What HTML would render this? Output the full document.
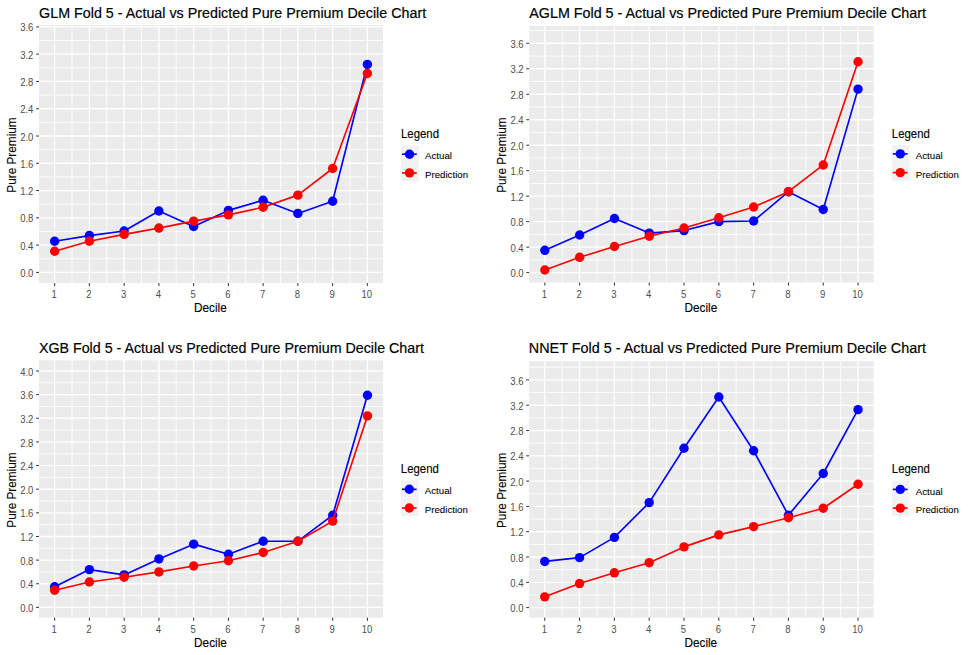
<!DOCTYPE html>
<html><head><meta charset="utf-8"><title>Decile Charts</title>
<style>html,body{margin:0;padding:0;background:#fff;}svg{display:block;}</style></head>
<body><svg width="970" height="655" viewBox="0 0 970 655" font-family='"Liberation Sans", sans-serif'>
<rect width="970" height="655" fill="#FFFFFF"/>
<rect x="39" y="25" width="344" height="258" fill="#EBEBEB"/>
<path d="M39 258.76H383M39 231.48H383M39 204.2H383M39 176.92H383M39 149.64H383M39 122.36H383M39 95.08H383M39 67.8H383M39 40.52H383M72.01 25V283M106.76 25V283M141.51 25V283M176.25 25V283M211 25V283M245.75 25V283M280.49 25V283M315.24 25V283M349.99 25V283" stroke="#FFFFFF" stroke-width="0.85" fill="none"/>
<path d="M39 272.4H383M39 245.12H383M39 217.84H383M39 190.56H383M39 163.28H383M39 136H383M39 108.72H383M39 81.44H383M39 54.16H383M39 26.88H383M54.64 25V283M89.38 25V283M124.13 25V283M158.88 25V283M193.63 25V283M228.37 25V283M263.12 25V283M297.87 25V283M332.62 25V283M367.36 25V283" stroke="#FFFFFF" stroke-width="1.35" fill="none"/>
<polyline points="54.64,241.3 89.38,235.57 124.13,231 158.88,211.02 193.63,226.5 228.37,210.41 263.12,200.31 297.87,213.41 332.62,201.2 367.36,64.39" stroke="#0000FF" stroke-width="1.65" fill="none" stroke-linejoin="round"/>
<circle cx="54.64" cy="241.3" r="4.7" fill="#0000FF"/><circle cx="89.38" cy="235.57" r="4.7" fill="#0000FF"/><circle cx="124.13" cy="231" r="4.7" fill="#0000FF"/><circle cx="158.88" cy="211.02" r="4.7" fill="#0000FF"/><circle cx="193.63" cy="226.5" r="4.7" fill="#0000FF"/><circle cx="228.37" cy="210.41" r="4.7" fill="#0000FF"/><circle cx="263.12" cy="200.31" r="4.7" fill="#0000FF"/><circle cx="297.87" cy="213.41" r="4.7" fill="#0000FF"/><circle cx="332.62" cy="201.2" r="4.7" fill="#0000FF"/><circle cx="367.36" cy="64.39" r="4.7" fill="#0000FF"/>
<polyline points="54.64,251.26 89.38,241.3 124.13,234.41 158.88,228.07 193.63,221.11 228.37,214.91 263.12,207.27 297.87,195.13 332.62,168.53 367.36,73.53" stroke="#FF0000" stroke-width="1.65" fill="none" stroke-linejoin="round"/>
<circle cx="54.64" cy="251.26" r="4.7" fill="#FF0000"/><circle cx="89.38" cy="241.3" r="4.7" fill="#FF0000"/><circle cx="124.13" cy="234.41" r="4.7" fill="#FF0000"/><circle cx="158.88" cy="228.07" r="4.7" fill="#FF0000"/><circle cx="193.63" cy="221.11" r="4.7" fill="#FF0000"/><circle cx="228.37" cy="214.91" r="4.7" fill="#FF0000"/><circle cx="263.12" cy="207.27" r="4.7" fill="#FF0000"/><circle cx="297.87" cy="195.13" r="4.7" fill="#FF0000"/><circle cx="332.62" cy="168.53" r="4.7" fill="#FF0000"/><circle cx="367.36" cy="73.53" r="4.7" fill="#FF0000"/>
<path d="M36.1 272.4H39M36.1 245.12H39M36.1 217.84H39M36.1 190.56H39M36.1 163.28H39M36.1 136H39M36.1 108.72H39M36.1 81.44H39M36.1 54.16H39M36.1 26.88H39M54.64 283V286.1M89.38 283V286.1M124.13 283V286.1M158.88 283V286.1M193.63 283V286.1M228.37 283V286.1M263.12 283V286.1M297.87 283V286.1M332.62 283V286.1M367.36 283V286.1" stroke="#333333" stroke-width="1" fill="none"/>
<g fill="#4D4D4D" font-size="9.5"><text transform="translate(33.4 277) scale(1 1.12)" text-anchor="end">0.0</text><text transform="translate(33.4 249.72) scale(1 1.12)" text-anchor="end">0.4</text><text transform="translate(33.4 222.44) scale(1 1.12)" text-anchor="end">0.8</text><text transform="translate(33.4 195.16) scale(1 1.12)" text-anchor="end">1.2</text><text transform="translate(33.4 167.88) scale(1 1.12)" text-anchor="end">1.6</text><text transform="translate(33.4 140.6) scale(1 1.12)" text-anchor="end">2.0</text><text transform="translate(33.4 113.32) scale(1 1.12)" text-anchor="end">2.4</text><text transform="translate(33.4 86.04) scale(1 1.12)" text-anchor="end">2.8</text><text transform="translate(33.4 58.76) scale(1 1.12)" text-anchor="end">3.2</text><text transform="translate(33.4 31.48) scale(1 1.12)" text-anchor="end">3.6</text><text transform="translate(54.14 297.7) scale(1 1.12)" text-anchor="middle">1</text><text transform="translate(88.88 297.7) scale(1 1.12)" text-anchor="middle">2</text><text transform="translate(123.63 297.7) scale(1 1.12)" text-anchor="middle">3</text><text transform="translate(158.38 297.7) scale(1 1.12)" text-anchor="middle">4</text><text transform="translate(193.13 297.7) scale(1 1.12)" text-anchor="middle">5</text><text transform="translate(227.87 297.7) scale(1 1.12)" text-anchor="middle">6</text><text transform="translate(262.62 297.7) scale(1 1.12)" text-anchor="middle">7</text><text transform="translate(297.37 297.7) scale(1 1.12)" text-anchor="middle">8</text><text transform="translate(332.12 297.7) scale(1 1.12)" text-anchor="middle">9</text><text transform="translate(366.86 297.7) scale(1 1.12)" text-anchor="middle">10</text></g>
<text transform="translate(39.1 17.6) scale(1 1.03)" font-size="14.31" fill="#000" stroke="#000" stroke-width="0.18">GLM Fold 5 - Actual vs Predicted Pure Premium Decile Chart</text>
<text transform="translate(210.4 311.6) scale(1 1.1)" font-size="11.8" text-anchor="middle" fill="#000" stroke="#000" stroke-width="0.12">Decile</text>
<text transform="translate(15.9 155) rotate(-90) scale(1 1.1)" font-size="11.8" text-anchor="middle" fill="#000" stroke="#000" stroke-width="0.12">Pure Premium</text>
<text transform="translate(401 138.3) scale(1 1.1)" font-size="11.4" fill="#000" stroke="#000" stroke-width="0.12">Legend</text>
<rect x="401" y="145.3" width="17.8" height="35.6" fill="#F2F2F2"/>
<path d="M402 154.2H416.8" stroke="#0000FF" stroke-width="1.65"/>
<circle cx="409.5" cy="154.2" r="4.7" fill="#0000FF"/>
<text transform="translate(425 159.3) scale(1 1.02)" font-size="9.7" fill="#000" stroke="#000" stroke-width="0.08">Actual</text>
<path d="M402 172.9H416.8" stroke="#FF0000" stroke-width="1.65"/>
<circle cx="409.5" cy="172.9" r="4.7" fill="#FF0000"/>
<text transform="translate(425 178) scale(1 1.02)" font-size="9.7" fill="#000" stroke="#000" stroke-width="0.08">Prediction</text>
<rect x="529.2" y="25.8" width="344.5" height="256.7" fill="#EBEBEB"/>
<path d="M529.2 259.86H873.7M529.2 234.38H873.7M529.2 208.9H873.7M529.2 183.42H873.7M529.2 157.94H873.7M529.2 132.46H873.7M529.2 106.98H873.7M529.2 81.5H873.7M529.2 56.02H873.7M529.2 30.54H873.7M562.26 25.8V282.5M597.06 25.8V282.5M631.85 25.8V282.5M666.65 25.8V282.5M701.45 25.8V282.5M736.25 25.8V282.5M771.05 25.8V282.5M805.84 25.8V282.5M840.64 25.8V282.5" stroke="#FFFFFF" stroke-width="0.85" fill="none"/>
<path d="M529.2 272.6H873.7M529.2 247.12H873.7M529.2 221.64H873.7M529.2 196.16H873.7M529.2 170.68H873.7M529.2 145.2H873.7M529.2 119.72H873.7M529.2 94.24H873.7M529.2 68.76H873.7M529.2 43.28H873.7M544.86 25.8V282.5M579.66 25.8V282.5M614.46 25.8V282.5M649.25 25.8V282.5M684.05 25.8V282.5M718.85 25.8V282.5M753.65 25.8V282.5M788.44 25.8V282.5M823.24 25.8V282.5M858.04 25.8V282.5" stroke="#FFFFFF" stroke-width="1.35" fill="none"/>
<polyline points="544.86,250.31 579.66,235.02 614.46,218.46 649.25,233.11 684.05,230.56 718.85,221.64 753.65,221 788.44,191.7 823.24,209.54 858.04,89.14" stroke="#0000FF" stroke-width="1.65" fill="none" stroke-linejoin="round"/>
<circle cx="544.86" cy="250.31" r="4.7" fill="#0000FF"/><circle cx="579.66" cy="235.02" r="4.7" fill="#0000FF"/><circle cx="614.46" cy="218.46" r="4.7" fill="#0000FF"/><circle cx="649.25" cy="233.11" r="4.7" fill="#0000FF"/><circle cx="684.05" cy="230.56" r="4.7" fill="#0000FF"/><circle cx="718.85" cy="221.64" r="4.7" fill="#0000FF"/><circle cx="753.65" cy="221" r="4.7" fill="#0000FF"/><circle cx="788.44" cy="191.7" r="4.7" fill="#0000FF"/><circle cx="823.24" cy="209.54" r="4.7" fill="#0000FF"/><circle cx="858.04" cy="89.14" r="4.7" fill="#0000FF"/>
<polyline points="544.86,270.05 579.66,257.31 614.46,246.48 649.25,236.29 684.05,228.01 718.85,217.82 753.65,206.99 788.44,191.7 823.24,164.95 858.04,61.75" stroke="#FF0000" stroke-width="1.65" fill="none" stroke-linejoin="round"/>
<circle cx="544.86" cy="270.05" r="4.7" fill="#FF0000"/><circle cx="579.66" cy="257.31" r="4.7" fill="#FF0000"/><circle cx="614.46" cy="246.48" r="4.7" fill="#FF0000"/><circle cx="649.25" cy="236.29" r="4.7" fill="#FF0000"/><circle cx="684.05" cy="228.01" r="4.7" fill="#FF0000"/><circle cx="718.85" cy="217.82" r="4.7" fill="#FF0000"/><circle cx="753.65" cy="206.99" r="4.7" fill="#FF0000"/><circle cx="788.44" cy="191.7" r="4.7" fill="#FF0000"/><circle cx="823.24" cy="164.95" r="4.7" fill="#FF0000"/><circle cx="858.04" cy="61.75" r="4.7" fill="#FF0000"/>
<path d="M526.3 272.6H529.2M526.3 247.12H529.2M526.3 221.64H529.2M526.3 196.16H529.2M526.3 170.68H529.2M526.3 145.2H529.2M526.3 119.72H529.2M526.3 94.24H529.2M526.3 68.76H529.2M526.3 43.28H529.2M544.86 282.5V285.6M579.66 282.5V285.6M614.46 282.5V285.6M649.25 282.5V285.6M684.05 282.5V285.6M718.85 282.5V285.6M753.65 282.5V285.6M788.44 282.5V285.6M823.24 282.5V285.6M858.04 282.5V285.6" stroke="#333333" stroke-width="1" fill="none"/>
<g fill="#4D4D4D" font-size="9.5"><text transform="translate(523.6 277.2) scale(1 1.12)" text-anchor="end">0.0</text><text transform="translate(523.6 251.72) scale(1 1.12)" text-anchor="end">0.4</text><text transform="translate(523.6 226.24) scale(1 1.12)" text-anchor="end">0.8</text><text transform="translate(523.6 200.76) scale(1 1.12)" text-anchor="end">1.2</text><text transform="translate(523.6 175.28) scale(1 1.12)" text-anchor="end">1.6</text><text transform="translate(523.6 149.8) scale(1 1.12)" text-anchor="end">2.0</text><text transform="translate(523.6 124.32) scale(1 1.12)" text-anchor="end">2.4</text><text transform="translate(523.6 98.84) scale(1 1.12)" text-anchor="end">2.8</text><text transform="translate(523.6 73.36) scale(1 1.12)" text-anchor="end">3.2</text><text transform="translate(523.6 47.88) scale(1 1.12)" text-anchor="end">3.6</text><text transform="translate(544.36 297.7) scale(1 1.12)" text-anchor="middle">1</text><text transform="translate(579.16 297.7) scale(1 1.12)" text-anchor="middle">2</text><text transform="translate(613.96 297.7) scale(1 1.12)" text-anchor="middle">3</text><text transform="translate(648.75 297.7) scale(1 1.12)" text-anchor="middle">4</text><text transform="translate(683.55 297.7) scale(1 1.12)" text-anchor="middle">5</text><text transform="translate(718.35 297.7) scale(1 1.12)" text-anchor="middle">6</text><text transform="translate(753.15 297.7) scale(1 1.12)" text-anchor="middle">7</text><text transform="translate(787.94 297.7) scale(1 1.12)" text-anchor="middle">8</text><text transform="translate(822.74 297.7) scale(1 1.12)" text-anchor="middle">9</text><text transform="translate(857.54 297.7) scale(1 1.12)" text-anchor="middle">10</text></g>
<text transform="translate(529.3 17.6) scale(1 1.03)" font-size="14.32" fill="#000" stroke="#000" stroke-width="0.18">AGLM Fold 5 - Actual vs Predicted Pure Premium Decile Chart</text>
<text transform="translate(700.85 311.6) scale(1 1.1)" font-size="11.8" text-anchor="middle" fill="#000" stroke="#000" stroke-width="0.12">Decile</text>
<text transform="translate(505.9 155.15) rotate(-90) scale(1 1.1)" font-size="11.8" text-anchor="middle" fill="#000" stroke="#000" stroke-width="0.12">Pure Premium</text>
<text transform="translate(891.8 138.2) scale(1 1.1)" font-size="11.4" fill="#000" stroke="#000" stroke-width="0.12">Legend</text>
<rect x="891.8" y="145" width="17.8" height="35.6" fill="#F2F2F2"/>
<path d="M892.8 153.9H907.6" stroke="#0000FF" stroke-width="1.65"/>
<circle cx="900.3" cy="153.9" r="4.7" fill="#0000FF"/>
<text transform="translate(915.8 159) scale(1 1.02)" font-size="9.7" fill="#000" stroke="#000" stroke-width="0.08">Actual</text>
<path d="M892.8 172.6H907.6" stroke="#FF0000" stroke-width="1.65"/>
<circle cx="900.3" cy="172.6" r="4.7" fill="#FF0000"/>
<text transform="translate(915.8 177.7) scale(1 1.02)" font-size="9.7" fill="#000" stroke="#000" stroke-width="0.08">Prediction</text>
<rect x="39" y="360.4" width="344.1" height="257.3" fill="#EBEBEB"/>
<path d="M39 595.58H383.1M39 571.94H383.1M39 548.3H383.1M39 524.66H383.1M39 501.02H383.1M39 477.38H383.1M39 453.74H383.1M39 430.1H383.1M39 406.46H383.1M39 382.82H383.1M72.02 360.4V617.7M106.78 360.4V617.7M141.53 360.4V617.7M176.29 360.4V617.7M211.05 360.4V617.7M245.81 360.4V617.7M280.57 360.4V617.7M315.32 360.4V617.7M350.08 360.4V617.7" stroke="#FFFFFF" stroke-width="0.85" fill="none"/>
<path d="M39 607.4H383.1M39 583.76H383.1M39 560.12H383.1M39 536.48H383.1M39 512.84H383.1M39 489.2H383.1M39 465.56H383.1M39 441.92H383.1M39 418.28H383.1M39 394.64H383.1M39 371H383.1M54.64 360.4V617.7M89.4 360.4V617.7M124.16 360.4V617.7M158.91 360.4V617.7M193.67 360.4V617.7M228.43 360.4V617.7M263.19 360.4V617.7M297.94 360.4V617.7M332.7 360.4V617.7M367.46 360.4V617.7" stroke="#FFFFFF" stroke-width="1.35" fill="none"/>
<polyline points="54.64,586.72 89.4,569.58 124.16,574.89 158.91,558.94 193.67,544.16 228.43,554.21 263.19,541.21 297.94,541.21 332.7,515.2 367.46,395.23" stroke="#0000FF" stroke-width="1.65" fill="none" stroke-linejoin="round"/>
<circle cx="54.64" cy="586.72" r="4.7" fill="#0000FF"/><circle cx="89.4" cy="569.58" r="4.7" fill="#0000FF"/><circle cx="124.16" cy="574.89" r="4.7" fill="#0000FF"/><circle cx="158.91" cy="558.94" r="4.7" fill="#0000FF"/><circle cx="193.67" cy="544.16" r="4.7" fill="#0000FF"/><circle cx="228.43" cy="554.21" r="4.7" fill="#0000FF"/><circle cx="263.19" cy="541.21" r="4.7" fill="#0000FF"/><circle cx="297.94" cy="541.21" r="4.7" fill="#0000FF"/><circle cx="332.7" cy="515.2" r="4.7" fill="#0000FF"/><circle cx="367.46" cy="395.23" r="4.7" fill="#0000FF"/>
<polyline points="54.64,590.26 89.4,581.99 124.16,577.26 158.91,571.94 193.67,566.03 228.43,560.71 263.19,552.44 297.94,541.21 332.7,521.11 367.46,415.92" stroke="#FF0000" stroke-width="1.65" fill="none" stroke-linejoin="round"/>
<circle cx="54.64" cy="590.26" r="4.7" fill="#FF0000"/><circle cx="89.4" cy="581.99" r="4.7" fill="#FF0000"/><circle cx="124.16" cy="577.26" r="4.7" fill="#FF0000"/><circle cx="158.91" cy="571.94" r="4.7" fill="#FF0000"/><circle cx="193.67" cy="566.03" r="4.7" fill="#FF0000"/><circle cx="228.43" cy="560.71" r="4.7" fill="#FF0000"/><circle cx="263.19" cy="552.44" r="4.7" fill="#FF0000"/><circle cx="297.94" cy="541.21" r="4.7" fill="#FF0000"/><circle cx="332.7" cy="521.11" r="4.7" fill="#FF0000"/><circle cx="367.46" cy="415.92" r="4.7" fill="#FF0000"/>
<path d="M36.1 607.4H39M36.1 583.76H39M36.1 560.12H39M36.1 536.48H39M36.1 512.84H39M36.1 489.2H39M36.1 465.56H39M36.1 441.92H39M36.1 418.28H39M36.1 394.64H39M36.1 371H39M54.64 617.7V620.8M89.4 617.7V620.8M124.16 617.7V620.8M158.91 617.7V620.8M193.67 617.7V620.8M228.43 617.7V620.8M263.19 617.7V620.8M297.94 617.7V620.8M332.7 617.7V620.8M367.46 617.7V620.8" stroke="#333333" stroke-width="1" fill="none"/>
<g fill="#4D4D4D" font-size="9.5"><text transform="translate(33.4 612) scale(1 1.12)" text-anchor="end">0.0</text><text transform="translate(33.4 588.36) scale(1 1.12)" text-anchor="end">0.4</text><text transform="translate(33.4 564.72) scale(1 1.12)" text-anchor="end">0.8</text><text transform="translate(33.4 541.08) scale(1 1.12)" text-anchor="end">1.2</text><text transform="translate(33.4 517.44) scale(1 1.12)" text-anchor="end">1.6</text><text transform="translate(33.4 493.8) scale(1 1.12)" text-anchor="end">2.0</text><text transform="translate(33.4 470.16) scale(1 1.12)" text-anchor="end">2.4</text><text transform="translate(33.4 446.52) scale(1 1.12)" text-anchor="end">2.8</text><text transform="translate(33.4 422.88) scale(1 1.12)" text-anchor="end">3.2</text><text transform="translate(33.4 399.24) scale(1 1.12)" text-anchor="end">3.6</text><text transform="translate(33.4 375.6) scale(1 1.12)" text-anchor="end">4.0</text><text transform="translate(54.14 632.7) scale(1 1.12)" text-anchor="middle">1</text><text transform="translate(88.9 632.7) scale(1 1.12)" text-anchor="middle">2</text><text transform="translate(123.66 632.7) scale(1 1.12)" text-anchor="middle">3</text><text transform="translate(158.41 632.7) scale(1 1.12)" text-anchor="middle">4</text><text transform="translate(193.17 632.7) scale(1 1.12)" text-anchor="middle">5</text><text transform="translate(227.93 632.7) scale(1 1.12)" text-anchor="middle">6</text><text transform="translate(262.69 632.7) scale(1 1.12)" text-anchor="middle">7</text><text transform="translate(297.44 632.7) scale(1 1.12)" text-anchor="middle">8</text><text transform="translate(332.2 632.7) scale(1 1.12)" text-anchor="middle">9</text><text transform="translate(366.96 632.7) scale(1 1.12)" text-anchor="middle">10</text></g>
<text transform="translate(38.9 352.8) scale(1 1.03)" font-size="14.27" fill="#000" stroke="#000" stroke-width="0.18">XGB Fold 5 - Actual vs Predicted Pure Premium Decile Chart</text>
<text transform="translate(210.45 646.6) scale(1 1.1)" font-size="11.8" text-anchor="middle" fill="#000" stroke="#000" stroke-width="0.12">Decile</text>
<text transform="translate(15.9 490.05) rotate(-90) scale(1 1.1)" font-size="11.8" text-anchor="middle" fill="#000" stroke="#000" stroke-width="0.12">Pure Premium</text>
<text transform="translate(400.8 473) scale(1 1.1)" font-size="11.4" fill="#000" stroke="#000" stroke-width="0.12">Legend</text>
<rect x="400.8" y="480.4" width="17.8" height="35.6" fill="#F2F2F2"/>
<path d="M401.8 489.3H416.6" stroke="#0000FF" stroke-width="1.65"/>
<circle cx="409.3" cy="489.3" r="4.7" fill="#0000FF"/>
<text transform="translate(424.8 494.4) scale(1 1.02)" font-size="9.7" fill="#000" stroke="#000" stroke-width="0.08">Actual</text>
<path d="M401.8 508H416.6" stroke="#FF0000" stroke-width="1.65"/>
<circle cx="409.3" cy="508" r="4.7" fill="#FF0000"/>
<text transform="translate(424.8 513.1) scale(1 1.02)" font-size="9.7" fill="#000" stroke="#000" stroke-width="0.08">Prediction</text>
<rect x="529.1" y="361" width="344.6" height="256.7" fill="#EBEBEB"/>
<path d="M529.1 594.95H873.7M529.1 569.65H873.7M529.1 544.35H873.7M529.1 519.05H873.7M529.1 493.75H873.7M529.1 468.45H873.7M529.1 443.15H873.7M529.1 417.85H873.7M529.1 392.55H873.7M529.1 367.25H873.7M562.17 361V617.7M596.98 361V617.7M631.78 361V617.7M666.59 361V617.7M701.4 361V617.7M736.21 361V617.7M771.02 361V617.7M805.82 361V617.7M840.63 361V617.7" stroke="#FFFFFF" stroke-width="0.85" fill="none"/>
<path d="M529.1 607.6H873.7M529.1 582.3H873.7M529.1 557H873.7M529.1 531.7H873.7M529.1 506.4H873.7M529.1 481.1H873.7M529.1 455.8H873.7M529.1 430.5H873.7M529.1 405.2H873.7M529.1 379.9H873.7M544.76 361V617.7M579.57 361V617.7M614.38 361V617.7M649.19 361V617.7M684 361V617.7M718.8 361V617.7M753.61 361V617.7M788.42 361V617.7M823.23 361V617.7M858.04 361V617.7" stroke="#FFFFFF" stroke-width="1.35" fill="none"/>
<polyline points="544.76,561.43 579.57,557.63 614.38,537.39 649.19,502.61 684,448.21 718.8,396.98 753.61,450.74 788.42,515.25 823.23,473.51 858.04,409.63" stroke="#0000FF" stroke-width="1.65" fill="none" stroke-linejoin="round"/>
<circle cx="544.76" cy="561.43" r="4.7" fill="#0000FF"/><circle cx="579.57" cy="557.63" r="4.7" fill="#0000FF"/><circle cx="614.38" cy="537.39" r="4.7" fill="#0000FF"/><circle cx="649.19" cy="502.61" r="4.7" fill="#0000FF"/><circle cx="684" cy="448.21" r="4.7" fill="#0000FF"/><circle cx="718.8" cy="396.98" r="4.7" fill="#0000FF"/><circle cx="753.61" cy="450.74" r="4.7" fill="#0000FF"/><circle cx="788.42" cy="515.25" r="4.7" fill="#0000FF"/><circle cx="823.23" cy="473.51" r="4.7" fill="#0000FF"/><circle cx="858.04" cy="409.63" r="4.7" fill="#0000FF"/>
<polyline points="544.76,596.85 579.57,583.57 614.38,572.81 649.19,562.69 684,546.88 718.8,534.86 753.61,526.64 788.42,517.79 823.23,508.3 858.04,484.26" stroke="#FF0000" stroke-width="1.65" fill="none" stroke-linejoin="round"/>
<circle cx="544.76" cy="596.85" r="4.7" fill="#FF0000"/><circle cx="579.57" cy="583.57" r="4.7" fill="#FF0000"/><circle cx="614.38" cy="572.81" r="4.7" fill="#FF0000"/><circle cx="649.19" cy="562.69" r="4.7" fill="#FF0000"/><circle cx="684" cy="546.88" r="4.7" fill="#FF0000"/><circle cx="718.8" cy="534.86" r="4.7" fill="#FF0000"/><circle cx="753.61" cy="526.64" r="4.7" fill="#FF0000"/><circle cx="788.42" cy="517.79" r="4.7" fill="#FF0000"/><circle cx="823.23" cy="508.3" r="4.7" fill="#FF0000"/><circle cx="858.04" cy="484.26" r="4.7" fill="#FF0000"/>
<path d="M526.2 607.6H529.1M526.2 582.3H529.1M526.2 557H529.1M526.2 531.7H529.1M526.2 506.4H529.1M526.2 481.1H529.1M526.2 455.8H529.1M526.2 430.5H529.1M526.2 405.2H529.1M526.2 379.9H529.1M544.76 617.7V620.8M579.57 617.7V620.8M614.38 617.7V620.8M649.19 617.7V620.8M684 617.7V620.8M718.8 617.7V620.8M753.61 617.7V620.8M788.42 617.7V620.8M823.23 617.7V620.8M858.04 617.7V620.8" stroke="#333333" stroke-width="1" fill="none"/>
<g fill="#4D4D4D" font-size="9.5"><text transform="translate(523.5 612.2) scale(1 1.12)" text-anchor="end">0.0</text><text transform="translate(523.5 586.9) scale(1 1.12)" text-anchor="end">0.4</text><text transform="translate(523.5 561.6) scale(1 1.12)" text-anchor="end">0.8</text><text transform="translate(523.5 536.3) scale(1 1.12)" text-anchor="end">1.2</text><text transform="translate(523.5 511) scale(1 1.12)" text-anchor="end">1.6</text><text transform="translate(523.5 485.7) scale(1 1.12)" text-anchor="end">2.0</text><text transform="translate(523.5 460.4) scale(1 1.12)" text-anchor="end">2.4</text><text transform="translate(523.5 435.1) scale(1 1.12)" text-anchor="end">2.8</text><text transform="translate(523.5 409.8) scale(1 1.12)" text-anchor="end">3.2</text><text transform="translate(523.5 384.5) scale(1 1.12)" text-anchor="end">3.6</text><text transform="translate(544.26 632.7) scale(1 1.12)" text-anchor="middle">1</text><text transform="translate(579.07 632.7) scale(1 1.12)" text-anchor="middle">2</text><text transform="translate(613.88 632.7) scale(1 1.12)" text-anchor="middle">3</text><text transform="translate(648.69 632.7) scale(1 1.12)" text-anchor="middle">4</text><text transform="translate(683.5 632.7) scale(1 1.12)" text-anchor="middle">5</text><text transform="translate(718.3 632.7) scale(1 1.12)" text-anchor="middle">6</text><text transform="translate(753.11 632.7) scale(1 1.12)" text-anchor="middle">7</text><text transform="translate(787.92 632.7) scale(1 1.12)" text-anchor="middle">8</text><text transform="translate(822.73 632.7) scale(1 1.12)" text-anchor="middle">9</text><text transform="translate(857.54 632.7) scale(1 1.12)" text-anchor="middle">10</text></g>
<text transform="translate(528.8 352.8) scale(1 1.03)" font-size="14.41" fill="#000" stroke="#000" stroke-width="0.18">NNET Fold 5 - Actual vs Predicted Pure Premium Decile Chart</text>
<text transform="translate(700.8 646.6) scale(1 1.1)" font-size="11.8" text-anchor="middle" fill="#000" stroke="#000" stroke-width="0.12">Decile</text>
<text transform="translate(505.9 490.35) rotate(-90) scale(1 1.1)" font-size="11.8" text-anchor="middle" fill="#000" stroke="#000" stroke-width="0.12">Pure Premium</text>
<text transform="translate(891.8 473) scale(1 1.1)" font-size="11.4" fill="#000" stroke="#000" stroke-width="0.12">Legend</text>
<rect x="891.8" y="480.5" width="17.8" height="35.6" fill="#F2F2F2"/>
<path d="M892.8 489.4H907.6" stroke="#0000FF" stroke-width="1.65"/>
<circle cx="900.3" cy="489.4" r="4.7" fill="#0000FF"/>
<text transform="translate(915.8 494.5) scale(1 1.02)" font-size="9.7" fill="#000" stroke="#000" stroke-width="0.08">Actual</text>
<path d="M892.8 508.1H907.6" stroke="#FF0000" stroke-width="1.65"/>
<circle cx="900.3" cy="508.1" r="4.7" fill="#FF0000"/>
<text transform="translate(915.8 513.2) scale(1 1.02)" font-size="9.7" fill="#000" stroke="#000" stroke-width="0.08">Prediction</text>
</svg></body></html>
